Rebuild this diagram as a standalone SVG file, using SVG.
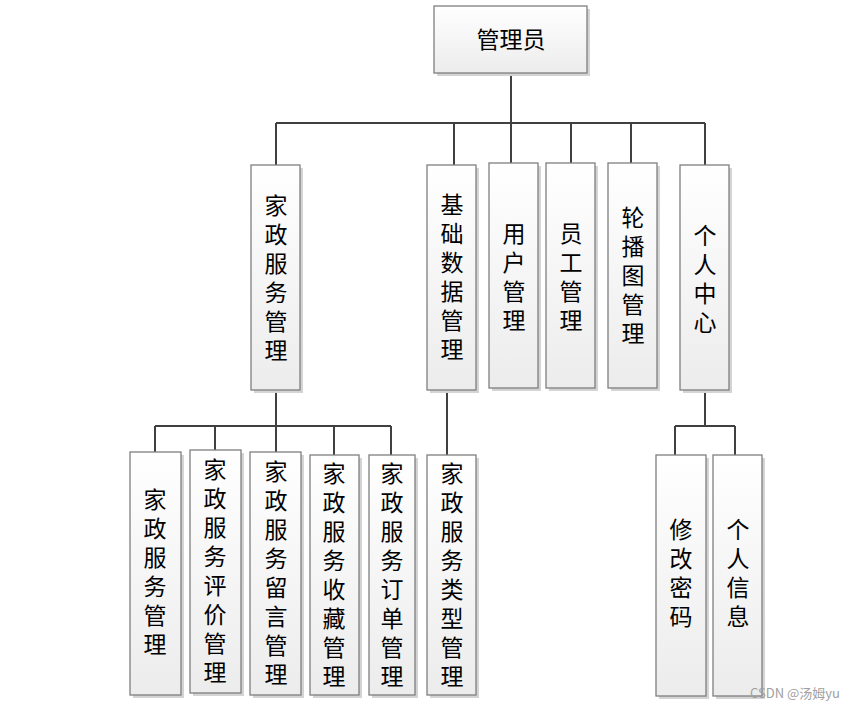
<svg xmlns="http://www.w3.org/2000/svg" width="866" height="708" viewBox="0 0 866 708">
<defs>
<linearGradient id="g" x1="0" y1="0" x2="0" y2="1"><stop offset="0" stop-color="#ffffff"/><stop offset="1" stop-color="#ececec"/></linearGradient>
<style>
.b{fill:url(#g);stroke:#7f7f7f;stroke-width:1.3}
.s{fill:#d4d4d4}
.t{font-family:"Noto Sans CJK SC","Noto Sans",sans-serif;font-size:23px;fill:#000;text-anchor:middle}
.c{stroke:#404040;stroke-width:2;fill:none}
</style>
</defs>
<rect width="866" height="708" fill="#fff"/>
<g id="connectors">
<path class="c" d="M511 73V123M276 123H705M276 123V165M454 123V165M511 123V163M571 123V163M631 123V163M705 123V165"/>
<path class="c" d="M276 390V426M155 426H391M155 426V452M215 426V450M276 426V452M334 426V455M391 426V455"/>
<path class="c" d="M447 390V455"/>
<path class="c" d="M705 390V426M675 426H735M675 426V455M735 426V455"/>
</g>
<g id="n0"><rect class="s" x="437" y="9" width="153" height="67"/><rect class="b" x="434" y="6" width="153" height="67"/><text class="t" x="511" y="48">管理员</text></g>
<g id="n1"><rect class="s" x="254" y="168" width="49" height="225"/><rect class="b" x="251" y="165" width="49" height="225"/><text class="t" x="276"><tspan x="276" y="214">家</tspan><tspan x="276" y="243">政</tspan><tspan x="276" y="272">服</tspan><tspan x="276" y="301">务</tspan><tspan x="276" y="330">管</tspan><tspan x="276" y="359">理</tspan></text></g>
<g id="n2"><rect class="s" x="430" y="168" width="49" height="225"/><rect class="b" x="427" y="165" width="49" height="225"/><text class="t"><tspan x="452" y="213">基</tspan><tspan x="452" y="242">础</tspan><tspan x="452" y="271">数</tspan><tspan x="452" y="300">据</tspan><tspan x="452" y="329">管</tspan><tspan x="452" y="358">理</tspan></text></g>
<g id="n3"><rect class="s" x="492" y="166" width="49" height="225"/><rect class="b" x="489" y="163" width="49" height="225"/><text class="t"><tspan x="514" y="242">用</tspan><tspan x="514" y="271">户</tspan><tspan x="514" y="300">管</tspan><tspan x="514" y="329">理</tspan></text></g>
<g id="n4"><rect class="s" x="549" y="166" width="49" height="225"/><rect class="b" x="546" y="163" width="49" height="225"/><text class="t"><tspan x="571" y="242">员</tspan><tspan x="571" y="271">工</tspan><tspan x="571" y="300">管</tspan><tspan x="571" y="329">理</tspan></text></g>
<g id="n5"><rect class="s" x="611" y="166" width="49" height="225"/><rect class="b" x="608" y="163" width="49" height="225"/><text class="t"><tspan x="633" y="226">轮</tspan><tspan x="633" y="255">播</tspan><tspan x="633" y="284">图</tspan><tspan x="633" y="313">管</tspan><tspan x="633" y="342">理</tspan></text></g>
<g id="n6"><rect class="s" x="683" y="168" width="49" height="225"/><rect class="b" x="680" y="165" width="49" height="225"/><text class="t"><tspan x="705" y="244">个</tspan><tspan x="705" y="273">人</tspan><tspan x="705" y="302">中</tspan><tspan x="705" y="331">心</tspan></text></g>
<g id="n7"><rect class="s" x="133" y="455" width="51" height="243"/><rect class="b" x="130" y="452" width="51" height="243"/><text class="t"><tspan x="155" y="508">家</tspan><tspan x="155" y="537">政</tspan><tspan x="155" y="566">服</tspan><tspan x="155" y="595">务</tspan><tspan x="155" y="624">管</tspan><tspan x="155" y="653">理</tspan></text></g>
<g id="n8"><rect class="s" x="193" y="453" width="51" height="243"/><rect class="b" x="190" y="450" width="51" height="243"/><text class="t"><tspan x="215" y="478">家</tspan><tspan x="215" y="507">政</tspan><tspan x="215" y="536">服</tspan><tspan x="215" y="565">务</tspan><tspan x="215" y="594">评</tspan><tspan x="215" y="623">价</tspan><tspan x="215" y="652">管</tspan><tspan x="215" y="681">理</tspan></text></g>
<g id="n9"><rect class="s" x="253" y="455" width="51" height="243"/><rect class="b" x="250" y="452" width="51" height="243"/><text class="t"><tspan x="276" y="480">家</tspan><tspan x="276" y="509">政</tspan><tspan x="276" y="538">服</tspan><tspan x="276" y="567">务</tspan><tspan x="276" y="596">留</tspan><tspan x="276" y="625">言</tspan><tspan x="276" y="654">管</tspan><tspan x="276" y="683">理</tspan></text></g>
<g id="n10"><rect class="s" x="313" y="458" width="49" height="240"/><rect class="b" x="310" y="455" width="49" height="240"/><text class="t"><tspan x="334" y="482">家</tspan><tspan x="334" y="511">政</tspan><tspan x="334" y="540">服</tspan><tspan x="334" y="569">务</tspan><tspan x="334" y="598">收</tspan><tspan x="334" y="627">藏</tspan><tspan x="334" y="656">管</tspan><tspan x="334" y="685">理</tspan></text></g>
<g id="n11"><rect class="s" x="372" y="458" width="46" height="240"/><rect class="b" x="369" y="455" width="46" height="240"/><text class="t"><tspan x="392" y="482">家</tspan><tspan x="392" y="511">政</tspan><tspan x="392" y="540">服</tspan><tspan x="392" y="569">务</tspan><tspan x="392" y="598">订</tspan><tspan x="392" y="627">单</tspan><tspan x="392" y="656">管</tspan><tspan x="392" y="685">理</tspan></text></g>
<g id="n12"><rect class="s" x="430" y="458" width="49" height="240"/><rect class="b" x="427" y="455" width="49" height="240"/><text class="t"><tspan x="452" y="482">家</tspan><tspan x="452" y="511">政</tspan><tspan x="452" y="540">服</tspan><tspan x="452" y="569">务</tspan><tspan x="452" y="598">类</tspan><tspan x="452" y="627">型</tspan><tspan x="452" y="656">管</tspan><tspan x="452" y="685">理</tspan></text></g>
<g id="n13"><rect class="s" x="659" y="458" width="50" height="241"/><rect class="b" x="656" y="455" width="50" height="241"/><text class="t"><tspan x="681" y="538">修</tspan><tspan x="681" y="567">改</tspan><tspan x="681" y="596">密</tspan><tspan x="681" y="625">码</tspan></text></g>
<g id="n14"><rect class="s" x="716" y="458" width="49" height="241"/><rect class="b" x="713" y="455" width="49" height="241"/><text class="t"><tspan x="738" y="538">个</tspan><tspan x="738" y="567">人</tspan><tspan x="738" y="596">信</tspan><tspan x="738" y="625">息</tspan></text></g>
<text x="750" y="698" font-family="Noto Sans CJK SC,sans-serif" font-size="13" fill="#a0a0a0">CSDN @汤姆yu</text>
</svg>
